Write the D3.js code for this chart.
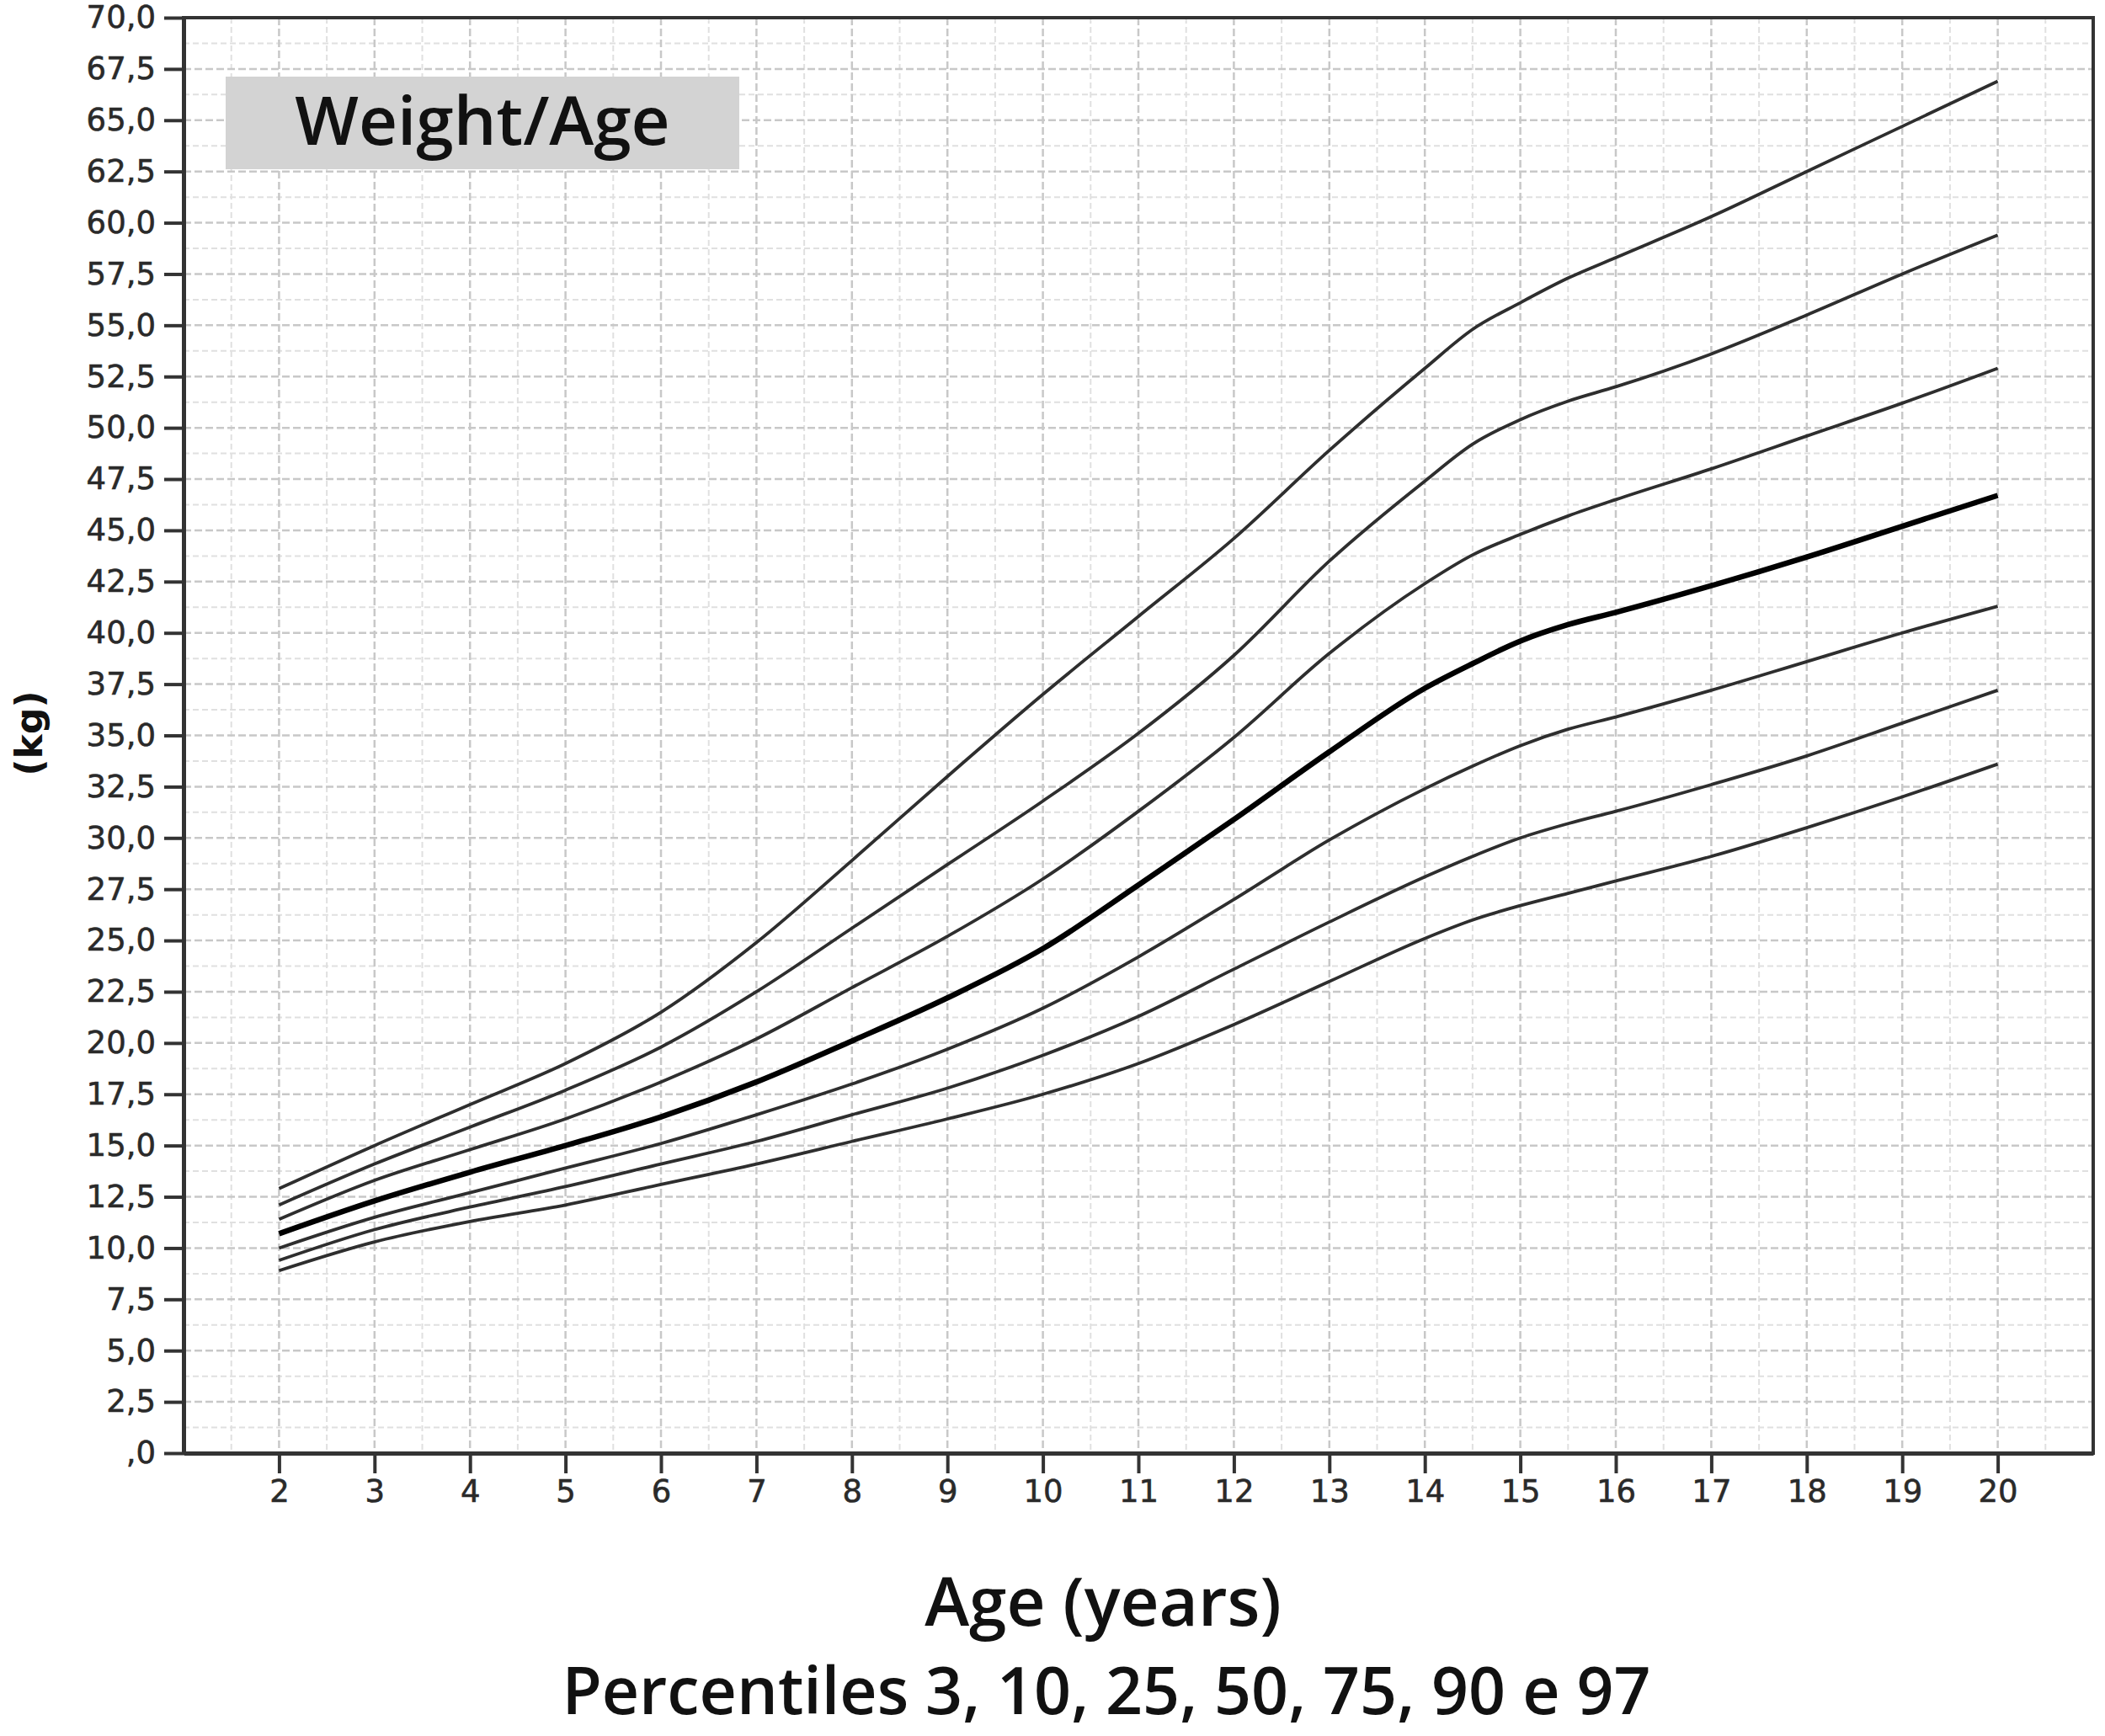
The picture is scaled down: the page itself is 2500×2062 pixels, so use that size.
<!DOCTYPE html>
<html>
<head>
<meta charset="utf-8">
<script src="https://cdn.jsdelivr.net/npm/d3@7"></script>
<style>
  body { margin: 0; background: #fff; }
  svg { display: block; }
</style>
</head>
<body>
<svg id="chart" width="2500" height="2062"></svg>
<script>
// ages and percentile values (kg)
const ages = [2, 3, 4, 5, 6, 7, 8, 9, 10, 11, 12, 13, 14, 14.5, 15, 15.5, 16, 17, 18, 19, 20]
const p3  = [8.9, 10.3, 11.3, 12.1, 13.1, 14.1, 15.2, 16.3, 17.5, 19.0, 20.9, 23.0, 25.1, 26.0, 26.7, 27.3, 27.9, 29.1, 30.5, 32.0, 33.6]
const p10 = [9.4, 10.9, 12.0, 13.0, 14.1, 15.2, 16.5, 17.8, 19.4, 21.3, 23.6, 25.9, 28.1, 29.1, 30.0, 30.7, 31.3, 32.6, 34.0, 35.6, 37.2]
const p25 = [10.0, 11.5, 12.7, 13.9, 15.1, 16.5, 18.0, 19.7, 21.7, 24.2, 27.0, 29.9, 32.4, 33.5, 34.5, 35.3, 35.9, 37.2, 38.6, 40.0, 41.3]
const p50 = [10.7, 12.3, 13.7, 15.0, 16.4, 18.1, 20.1, 22.2, 24.6, 27.7, 30.9, 34.2, 37.3, 38.5, 39.6, 40.4, 41.0, 42.3, 43.7, 45.2, 46.7]
const p75 = [11.4, 13.3, 14.8, 16.3, 18.1, 20.2, 22.7, 25.2, 28.0, 31.3, 34.9, 39.0, 42.4, 43.8, 44.8, 45.7, 46.5, 48.0, 49.6, 51.2, 52.9]
const p90 = [12.1, 14.1, 15.9, 17.7, 19.8, 22.5, 25.6, 28.7, 31.8, 35.1, 38.9, 43.5, 47.4, 49.2, 50.4, 51.3, 52.0, 53.6, 55.5, 57.5, 59.4]
const p97 = [12.9, 15.0, 17.0, 19.0, 21.5, 24.9, 28.9, 33.0, 37.0, 40.8, 44.6, 48.9, 52.9, 54.8, 56.1, 57.3, 58.3, 60.3, 62.5, 64.7, 66.9]

const percentiles = [3, 10, 25, 50, 75, 90, 97]
const seriesValues = [p3, p10, p25, p50, p75, p90, p97]

const xTicks = [2, 3, 4, 5, 6, 7, 8, 9, 10, 11, 12, 13, 14, 15, 16, 17, 18, 19, 20]
const yTicks = d3.range(0, 70.01, 2.5)

const titleText = "Weight/Age"
const xTitle = "Age (years)"
const subTitle = "Percentiles 3, 10, 25, 50, 75, 90 e 97"
const yTitle = "(kg)"

const svg = d3.select("#chart")

const plotLeft = 218, plotRight = 2486, plotTop = 21, plotBottom = 1726

const xScale = d3.scaleLinear().domain([1, 21]).range([plotLeft, plotRight])
const yScale = d3.scaleLinear().domain([0, 70]).range([plotBottom, plotTop])

// grid: minor every 0.5 year / 1.25 kg, major every year / 2.5 kg
const grid = svg.append("g")
const xMinor = d3.range(1.5, 21, 1)
const xMajor = d3.range(2, 21, 1)
const yMinor = d3.range(1.25, 70, 2.5)
const yMajor = d3.range(2.5, 70, 2.5)

grid.selectAll(".vminor")
    .data(xMinor)
    .join("line")
    .attr("x1", d => xScale(d)).attr("x2", d => xScale(d))
    .attr("y1", plotTop).attr("y2", plotBottom)
    .attr("stroke", "#e0e0e0").attr("stroke-width", 2)
    .attr("stroke-dasharray", "7,4")

grid.selectAll(".hminor")
    .data(yMinor)
    .join("line")
    .attr("x1", plotLeft).attr("x2", plotRight)
    .attr("y1", d => yScale(d)).attr("y2", d => yScale(d))
    .attr("stroke", "#e0e0e0").attr("stroke-width", 2)
    .attr("stroke-dasharray", "7,4")

grid.selectAll(".vmajor")
    .data(xMajor)
    .join("line")
    .attr("x1", d => xScale(d)).attr("x2", d => xScale(d))
    .attr("y1", plotTop).attr("y2", plotBottom)
    .attr("stroke", "#c8c8c8").attr("stroke-width", 2.5)
    .attr("stroke-dasharray", "9,4")

grid.selectAll(".hmajor")
    .data(yMajor)
    .join("line")
    .attr("x1", plotLeft).attr("x2", plotRight)
    .attr("y1", d => yScale(d)).attr("y2", d => yScale(d))
    .attr("stroke", "#c8c8c8").attr("stroke-width", 2.5)
    .attr("stroke-dasharray", "9,4")

// title box
const box = svg.append("g")
box.append("rect")
    .attr("x", 268).attr("y", 91)
    .attr("width", 610).attr("height", 110)
    .attr("fill", "#d3d3d3")
box.append("text")
    .attr("x", 573).attr("y", 172)
    .attr("text-anchor", "middle")
    .attr("font-family", "'Open Sans', sans-serif")
    .attr("font-weight", 600)
    .attr("font-size", 80)
    .attr("fill", "#111")
    .text(titleText)

// percentile curves
const myLine = d3.line()
    .x((value, index) => xScale(ages[index]))
    .y(yScale)
    .curve(d3.curveMonotoneX)

svg.selectAll(".line")
    .data(seriesValues)
    .join("path")
    .attr("class", "line")
    .attr("d", myLine)
    .attr("fill", "none")
    .attr("stroke", (d, i) => percentiles[i] === 50 ? "#000" : "#2e2e2e")
    .attr("stroke-width", (d, i) => percentiles[i] === 50 ? 6.5 : 3.8)
    .attr("stroke-linejoin", "round")

// frame
svg.append("rect")
    .attr("x", plotLeft).attr("y", plotTop)
    .attr("width", plotRight - plotLeft).attr("height", plotBottom - plotTop)
    .attr("fill", "none")
    .attr("stroke", "#333")
    .attr("stroke-width", 4)

// axes
const fmt = d => d === 0 ? ",0" : d3.format(".1f")(d).replace(".", ",")

const yAxis = d3.axisLeft(yScale)
    .tickValues(yTicks)
    .tickFormat(fmt)
    .tickSize(23)
    .tickSizeOuter(0)
    .tickPadding(10)

svg.append("g")
    .attr("class", "y-axis")
    .attr("transform", `translate(${plotLeft},0)`)
    .call(yAxis)

const xAxis = d3.axisBottom(xScale)
    .tickValues(xTicks)
    .tickFormat(d => d)
    .tickSize(24)
    .tickSizeOuter(0)
    .tickPadding(8)

svg.append("g")
    .attr("class", "x-axis")
    .attr("transform", `translate(0,${plotBottom})`)
    .call(xAxis)

svg.selectAll(".y-axis .domain, .x-axis .domain")
    .attr("stroke", "#333").attr("stroke-width", 5)
svg.selectAll(".y-axis .tick line, .x-axis .tick line")
    .attr("stroke", "#333").attr("stroke-width", 4)
svg.selectAll(".y-axis text, .x-axis text")
    .attr("font-family", "'DejaVu Sans', sans-serif")
    .attr("font-size", 37)
    .attr("fill", "#2a2a2a")
    .attr("stroke", "#2a2a2a")
    .attr("stroke-width", 0.6)

// axis titles
svg.append("text")
    .attr("transform", "translate(50,871) rotate(-90)")
    .attr("text-anchor", "middle")
    .attr("font-family", "'DejaVu Sans', sans-serif")
    .attr("font-weight", "bold")
    .attr("font-size", 44)
    .attr("fill", "#111")
    .text(yTitle)

svg.append("text")
    .attr("x", 1310).attr("y", 1931)
    .attr("text-anchor", "middle")
    .attr("font-family", "'Open Sans', sans-serif")
    .attr("font-weight", 600)
    .attr("font-size", 80)
    .attr("fill", "#111")
    .text(xTitle)

svg.append("text")
    .attr("x", 1314).attr("y", 2036)
    .attr("text-anchor", "middle")
    .attr("font-family", "'Open Sans', sans-serif")
    .attr("font-weight", 600)
    .attr("font-size", 77)
    .attr("fill", "#111")
    .text(subTitle)
</script>
</body>
</html>
